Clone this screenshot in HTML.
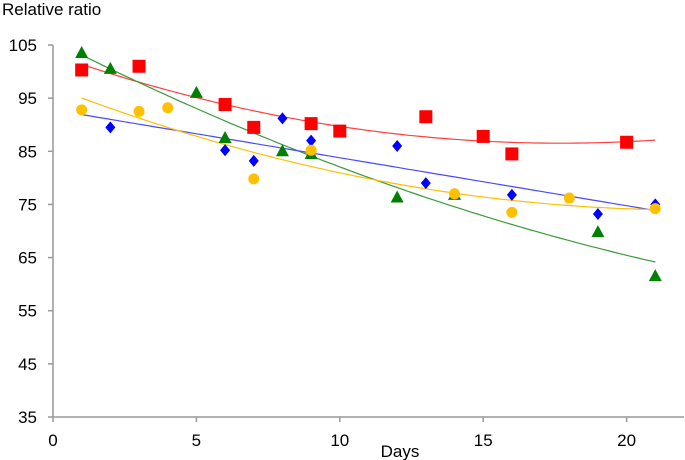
<!DOCTYPE html>
<html><head><meta charset="utf-8"><style>
html,body{margin:0;padding:0;background:#fff;}
svg{display:block;font-family:"Liberation Sans",Arial,sans-serif;}
</style></head><body>
<svg id="chart" width="685" height="460"></svg>
<script>
const xTicks=[0,5,10,15,20];
const yTicks=[35,45,55,65,75,85,95,105];
const redX=[1,3,6,7,9,10,13,15,16,20];
const redY=[100.3,101,93.8,89.5,90.2,88.8,91.5,87.8,84.5,86.7];
const greenX=[1,2,5,6,8,9,12,14,19,21];
const greenY=[103.5,100.5,96,87.5,85,84.5,76.3,76.8,69.8,61.5];
const blueX=[2,6,7,8,9,12,13,16,19,21];
const blueY=[89.5,85.2,83.2,91.2,87,86,79,76.8,73.2,75];
const yellowX=[1,3,4,7,9,14,16,18,21];
const yellowY=[92.8,92.5,93.2,79.8,85.2,77,73.5,76.2,74.2];

const NS="http://www.w3.org/2000/svg";
const svg=document.getElementById('chart');
const X0=53,PXD=28.68,Y105=45,PXU=(417-45)/70;
const sx=d=>X0+d*PXD;
const sy=v=>Y105+(105-v)*PXU;
function mk(t,a){const e=document.createElementNS(NS,t);for(const k in a)e.setAttribute(k,a[k]);svg.appendChild(e);return e;}

function polyfit(xs,ys,deg){
  const n=deg+1,A=[],b=[];
  for(let i=0;i<n;i++){A.push(new Array(n).fill(0));b.push(0);}
  for(let k=0;k<xs.length;k++){for(let i=0;i<n;i++){b[i]+=ys[k]*Math.pow(xs[k],i);for(let j=0;j<n;j++)A[i][j]+=Math.pow(xs[k],i+j);}}
  for(let i=0;i<n;i++){let p=i;for(let r=i+1;r<n;r++)if(Math.abs(A[r][i])>Math.abs(A[p][i]))p=r;[A[i],A[p]]=[A[p],A[i]];[b[i],b[p]]=[b[p],b[i]];
    for(let r=i+1;r<n;r++){const f=A[r][i]/A[i][i];for(let c=i;c<n;c++)A[r][c]-=f*A[i][c];b[r]-=f*b[i];}}
  const c=new Array(n).fill(0);
  for(let i=n-1;i>=0;i--){let s=b[i];for(let j=i+1;j<n;j++)s-=A[i][j]*c[j];c[i]=s/A[i][i];}
  return x=>c.reduce((s,ci,i)=>s+ci*Math.pow(x,i),0);
}

// axes
let ax=mk('line',{x1:X0,y1:sy(35),x2:684,y2:sy(35),stroke:'#999','stroke-width':1.5});

let ay=mk('line',{x1:X0,y1:sy(105),x2:X0,y2:sy(35),stroke:'#999','stroke-width':1.5});

yTicks.forEach(v=>{
  const t=mk('line',{x1:X0-5,y1:sy(v),x2:X0,y2:sy(v),stroke:'#999','stroke-width':1.5});
  
  const l=mk('text',{x:37,y:sy(v)+6,'text-anchor':'end','font-size':17,fill:'#000'});l.textContent=v;
  
});
xTicks.forEach(v=>{
  const t=mk('line',{x1:sx(v),y1:sy(35),x2:sx(v),y2:sy(35)+5,stroke:'#999','stroke-width':1.5});
  
  const l=mk('text',{x:sx(v),y:446,'text-anchor':'middle','font-size':17,fill:'#000'});l.textContent=v;
  
});
let yt=mk('text',{x:2,y:15,'font-size':17,fill:'#000'});yt.textContent='Relative ratio';

let xt=mk('text',{x:400,y:457,'text-anchor':'middle','font-size':17,fill:'#000'});xt.textContent='Days';


function trend(xs,ys,deg,color,name){
  const f=polyfit(xs,ys,deg);let d='';
  for(let i=0;i<=100;i++){const x=1+20*i/100;d+=(i?'L':'M')+sx(x).toFixed(1)+','+sy(f(x)).toFixed(1);}
  const p=mk('path',{d:d,fill:'none',stroke:color,'stroke-width':1.2});
  
}
trend(redX,redY,2,'#ff4040','red-trendline');
trend(greenX,greenY,2,'#3a9a3a','green-trendline');
trend(blueX,blueY,1,'#4a4aff','blue-trendline');
trend(yellowX,yellowY,2,'#ffc000','yellow-trendline');

redX.forEach((x,i)=>{const e=mk('rect',{x:sx(x)-6.5,y:sy(redY[i])-6.5,width:13,height:13,fill:'#ff0000'});
  });
greenX.forEach((x,i)=>{const cx=sx(x),cy=sy(greenY[i]);
  const e=mk('polygon',{points:`${cx},${cy-7} ${cx-6.5},${cy+5} ${cx+6.5},${cy+5}`,fill:'#008000'});
  });
blueX.forEach((x,i)=>{const cx=sx(x),cy=sy(blueY[i]);
  const e=mk('polygon',{points:`${cx},${cy-6} ${cx+5},${cy} ${cx},${cy+6} ${cx-5},${cy}`,fill:'#0000ff'});
  });
yellowX.forEach((x,i)=>{const e=mk('circle',{cx:sx(x),cy:sy(yellowY[i]),r:5.5,fill:'#ffc000'});
  });
</script>
</body></html>
